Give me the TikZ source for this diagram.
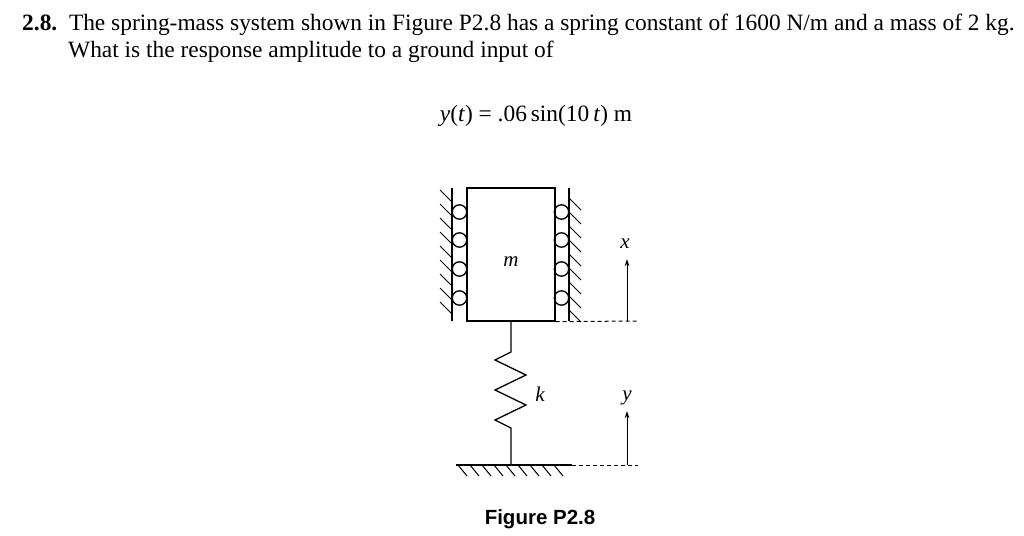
\documentclass[tikz,border=0pt]{standalone}
\usepackage{fontspec}
\usetikzlibrary{arrows.meta}
\setmainfont{Liberation Serif}
\newfontfamily\figfont{Liberation Sans}
\begin{document}
\begin{tikzpicture}[x=1pt,y=-1pt,
  ln/.style={line width=1.3pt},
  hat/.style={line width=1pt},
  dsh/.style={line width=1pt,dash pattern=on 4pt off 3pt},
  arr/.style={line width=1pt,-{Stealth[length=7pt,width=4.5pt]}},
  txt/.style={inner sep=0pt,font=\fontsize{23.4}{27}\selectfont},
  lab/.style={inner sep=0pt,font=\fontsize{21}{24}\selectfont\itshape}]
\useasboundingbox (0,0) rectangle (1024,535);
\node[txt,anchor=base west] (l1) at (22,31) {\textbf{2.8.}\ \ The spring-mass system shown in Figure P2.8 has a spring constant of 1600 N/m and a mass of 2 kg.};
\node[txt,anchor=base west] (l2) at (68,57) {What is the response amplitude to a ground input of};
\node[txt,anchor=base] (eq) at (536,121) {\textit{y}(\textit{t}) = .06\,sin(10\,\textit{t}) m};
% mass
\node[draw,ln,minimum width=88pt,minimum height=133pt,inner sep=0pt] (m) at (511,254.5) {};
\node[lab] (ml) at (511,262) {m};
% walls
\draw[ln] (452,188) coordinate (lw1) -- (452,321) coordinate (lw2);
\draw[ln] (569,188) coordinate (rw1) -- (569,321) coordinate (rw2);
\foreach \yy in {202,216,230,244,258,272,286,300,314}{
  \draw[hat] (452,\yy) -- (440,\yy-12);
}
\foreach \yy in {198,212,226,240,254,268,282,296,310}{
  \draw[hat] (569,\yy) -- (581,\yy+12);
}
\foreach \yy in {212,240,269,298}{
  \draw[ln] (459.5,\yy) circle (7.2);
  \draw[ln] (561.5,\yy) circle (7.2);
}
% spring
\coordinate (g) at (511,465);
\draw[ln] (m.south) -- (511,352) -- (495,360) -- (526,375) -- (495,390) -- (526,405) -- (495,420) -- (511,428) -- (g);
\node[lab] (kl) at (540,394) {k};
% ground
\draw[ln] (456,465) coordinate (g1) -- (572,465) coordinate (g2);
\foreach \xx in {458,470,482,494,506,518,530,542,554}{
  \draw[hat] (\xx,465) -- (\xx+9,476);
}
% dashed and arrows
\coordinate (dx) at (638,321);
\coordinate (dy) at (638,465);
\draw[dsh] (m.south east) -- (dx);
\draw[dsh] (g2) -- (dy);
\coordinate (ax0) at (627,321);
\coordinate (ax1) at (627,259);
\coordinate (ay0) at (627,465);
\coordinate (ay1) at (627,411);
\draw[arr] (ax0) -- (ax1);
\draw[arr] (ay0) -- (ay1);
\node[lab] (xl) at (625,244) {x};
\node[lab] (yl) at (627,398) {y};
\node[inner sep=0pt,font=\figfont\bfseries\fontsize{20.5}{24}\selectfont] (cap) at (540,519) {Figure P2.8};
\end{tikzpicture}
\end{document}
